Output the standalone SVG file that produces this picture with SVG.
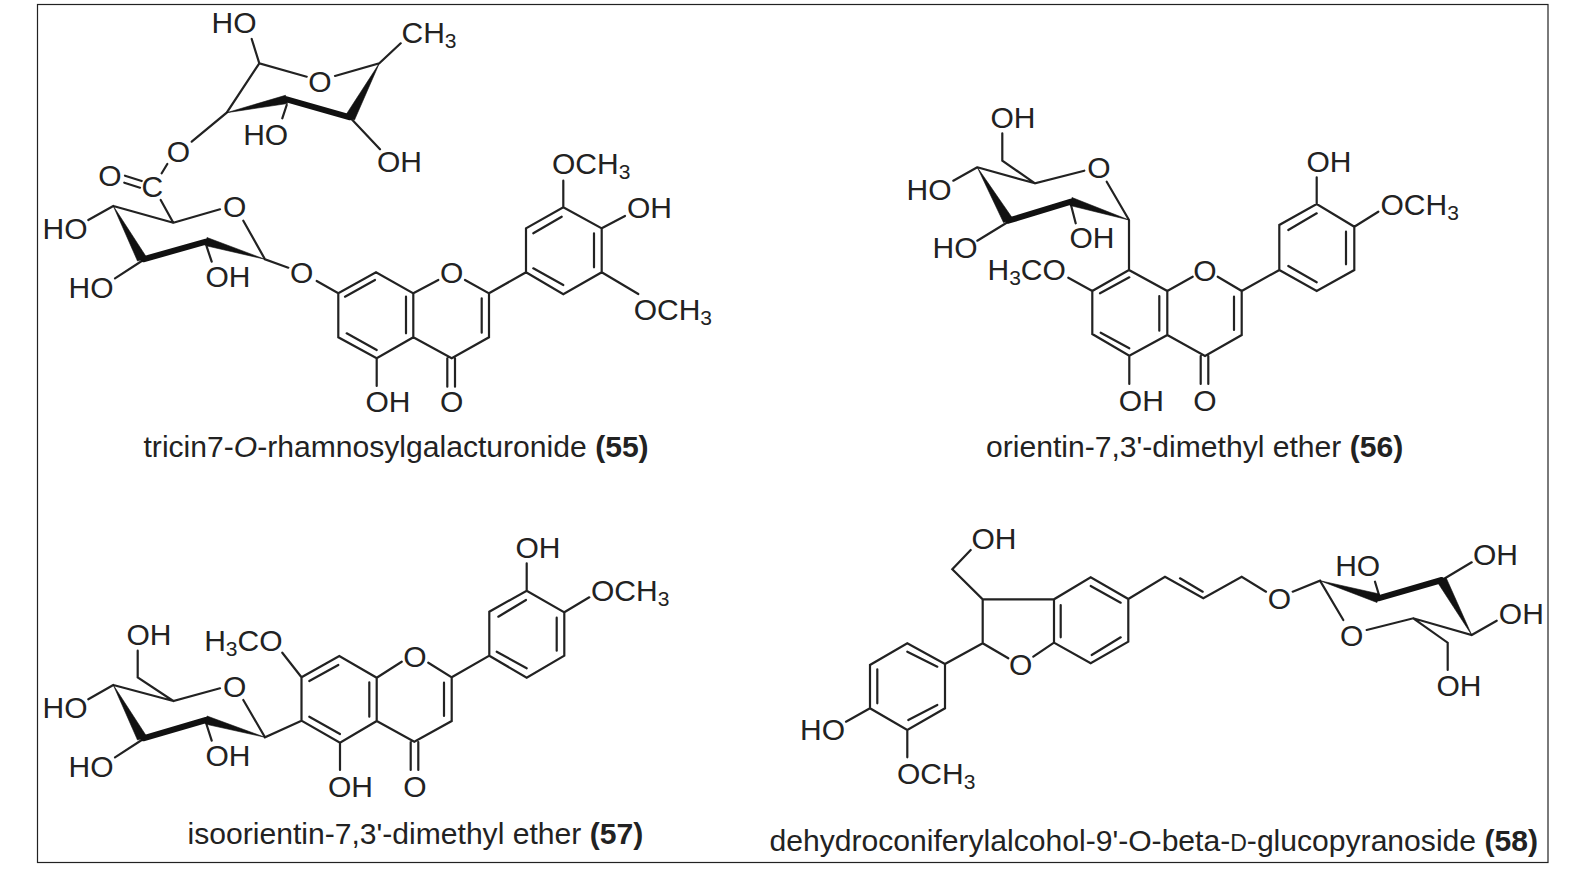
<svg xmlns="http://www.w3.org/2000/svg" width="1571" height="885" viewBox="0 0 1571 885">
<style>
.b{fill:none;stroke:#222;stroke-width:2.2;stroke-linecap:round;stroke-linejoin:miter}
.h{fill:none;stroke:#111;stroke-width:6;stroke-linecap:round}
.w{fill:#111;stroke:#111;stroke-width:.6;stroke-linejoin:round}
text{font-family:"Liberation Sans",Arial,sans-serif;fill:#222}
.a{font-size:30px}
.m{text-anchor:middle}
.c{font-size:30.1px}
.s{font-size:21px}
</style>
<rect x="37.5" y="4.5" width="1510.5" height="858" fill="#fff" stroke="#222" stroke-width="1.2"/>
<g id="connectors">
<g id="bonds-55">
<path class="b" d="M251.7 39L259.3 63.3L306.7 76.7M335 76L379.3 63.3L400.7 43.3M259.3 63.3L226.7 112.7L191.7 141.7M286.7 105L282.3 118.3M351.7 119.3L380 149.3M167.3 164L161.7 173.3M125 175.7L141.7 181M124.3 182.7L140 187.7M160.7 200L173.3 222.7L220 209.3M243.3 220.7L265 259.3L288.3 267.7M113.3 206L173.3 222.7M113.3 206L88.3 220M143.3 260L115 278.3M206.7 246.7L211.7 261.7M316.7 281L338.3 293.3L376 272.3L413.3 293.3L413.3 337.3L376.7 358.3L338.3 337.3L338.3 293.3M345 296.7L375 280M406 296.7L406 333.3M346.7 333.3L376.7 350M413.3 293.3L438.3 280M465 280L489 293.3L489 337.3L451.7 358.3L413.3 337.3M481.7 298.3L481.7 332.7M447.3 358.3L447.3 386.7M455 358.3L455 386.7M376.7 358.3L376.7 386M489 293.3L526 272.3L526 228.3L563.3 207.3L601.7 228.3L601.7 272.3L563.3 294.3L526 272.3M533.3 233.3L561.7 216.7M594 233.3L594 267.3M533.3 268.3L563.3 285M563.3 207.3L563.3 180.7M601.7 228.3L625 216M601.7 272.3L638.3 294"/>
<path class="h" d="M286.7 99.3L350 117.3M206 241.7L143.3 259.3"/>
<polygon class="w" points="226.7,112.7 285.5,95.3 287.5,103.5"/>
<polygon class="w" points="379.3,63.3 345.5,115.5 354.5,120"/>
<polygon class="w" points="265,259.3 205,245.5 207,237.5"/>
<polygon class="w" points="113.3,206 137.5,261 147,258"/>
</g>
<g id="bonds-56">
<path class="b" d="M1002.3 133.3L1002.3 160.7L1035 183.3L1084.3 170.7M1106.7 181.7L1129 220L1129 270L1167.3 291L1167.3 335L1129.3 355.7L1092.3 334L1092.3 291L1129 270M977.3 167.3L1035 183.3M977.3 167.3L953.3 180.7M1008.3 221.7L977.3 240.7M1071 205L1075.7 223.3M1068.3 277.7L1092.3 291M1100 293.3L1129.3 277.3M1159.3 296L1159.3 330.7M1100.7 332.7L1129.3 348.3M1167.3 291L1192.7 276.7M1217.7 276.7L1241.7 291L1241.7 335L1205 356L1167.3 335M1234 296.7L1234 330M1200.7 356L1200.7 384M1208.3 356L1208.3 384M1129.3 355.7L1129.3 384M1241.7 291L1279.3 270L1279.3 225L1316.7 204L1354.3 226.7L1354.3 270L1316.7 291L1279.3 270M1288.3 230L1316.7 213.3M1346 231.7L1346 264.3M1288.3 266L1316.7 282.3M1316.7 204L1316.7 177.3M1354.3 226.7L1378.3 211.7"/>
<path class="h" d="M1071 201.7L1008.3 220.7"/>
<polygon class="w" points="1129,220 1070,205.5 1072,197.5"/>
<polygon class="w" points="977.3,167.3 1003.5,222.5 1013,219"/>
</g>
<g id="bonds-57">
<path class="b" d="M137.7 650.7L137.7 677.3L173.3 701L220 688.3M243.3 700L265 737.3L301.5 720.7M113.3 685L173.3 701M113.3 685L88.3 699.3M143.3 739L115 757.3M206.7 725L211.7 740.7M282.3 652.7L301.5 677.3L339.3 656L376.7 677.7L376.7 721L340 742.7L301.5 720.7L301.5 677.3M309.3 681L338.3 665M369.3 682.3L369.3 716.7M309.3 716.7L340 734M340 742.7L340 770M376.7 677.7L401.7 661.7M428.3 662.7L451.7 677.3L451.7 721L414.3 741.7L376.7 721M444 682.7L444 716M410.7 742L410.7 770M418.3 742L418.3 770M451.7 677.3L489.3 655.7L489.3 611.7L526.7 590.7L564.3 612.3L564.3 655.7L526.7 677.7L489.3 655.7M498.3 616.7L526 600M556.7 617.7L556.7 650.7M496.7 651.7L526.7 668.3M526.7 590.7L526.7 563.3M564.3 612.3L589.3 597.3"/>
<path class="h" d="M206 720L143.3 738.3"/>
<polygon class="w" points="265,737.3 205,724 207,716"/>
<polygon class="w" points="113.3,685 137.5,740 147,737"/>
</g>
<g id="bonds-58">
<path class="b" d="M970.7 550L952.3 569.3L982.7 599.3L1054 599.3L1090.7 577.3L1128.3 599L1128.3 641.7L1090.7 663.3L1054 642.7L1054 599.3M982.7 599.3L982.7 643.3L1008.3 658.3M1033.3 656.7L1054 642.7M1060.7 605L1060.7 637.3M1090.7 586L1120.7 602.7M1091.7 655L1120.7 637.3M1128.3 599L1165 576.7L1203.3 598.3L1241.7 576.7L1266 591.7M1180 578.3L1202.7 591.7M1292.7 591.7L1320 580.7L1343.3 620M1366.7 630L1413.3 618.3L1471.7 635L1496.7 620.7M1413.3 618.3L1447.7 642.7L1447.7 670M1375 581.7L1379 595M1445 578.3L1471.7 562.3M982.7 643.3L945 664L945 708.3L907.3 730L870 708.3L870 665L907.3 643.3L945 664M877.3 669.3L877.3 703.3M907.3 651.7L937.3 666.7M908.3 720L937.3 705M870 708.3L846 721.7M907.3 730L907.3 757.3"/>
<path class="h" d="M1378.3 598.3L1441.7 580"/>
<polygon class="w" points="1320,580.7 1379.5,594 1377,602.5"/>
<polygon class="w" points="1471.7,635 1437,581.5 1446,577.5"/>
</g>
</g>
<g id="compound-55">
<text class="a" x="211.5" y="32.8">HO</text>
<text class="a" x="401.5" y="43.2">CH<tspan class="s" dy="5">3</tspan></text>
<text class="a m" x="320" y="91.5">O</text>
<text class="a" x="243.2" y="144.5">HO</text>
<text class="a" x="377" y="172">OH</text>
<text class="a m" x="178.3" y="161.5">O</text>
<text class="a m" x="152.3" y="196.5">C</text>
<text class="a m" x="110" y="185.5">O</text>
<text class="a m" x="234.7" y="216.5">O</text>
<text class="a" x="42.5" y="238.8">HO</text>
<text class="a" x="68.5" y="298">HO</text>
<text class="a" x="205.5" y="287">OH</text>
<text class="a m" x="301.7" y="283">O</text>
<text class="a m" x="451.7" y="283">O</text>
<text class="a" x="365.5" y="412">OH</text>
<text class="a m" x="451.7" y="412">O</text>
<text class="a" x="552" y="173.8">OCH<tspan class="s" dy="5">3</tspan></text>
<text class="a" x="627" y="217.8">OH</text>
<text class="a" x="633.7" y="319.8">OCH<tspan class="s" dy="5">3</tspan></text>
<text class="c" x="143.5" y="457">tricin7-<tspan font-style="italic">O</tspan>-rhamnosylgalacturonide <tspan font-weight="bold">(55)</tspan></text>
</g>
<g id="compound-56">
<text class="a" x="990.5" y="127.8">OH</text>
<text class="a m" x="1099" y="178">O</text>
<text class="a" x="906.5" y="199.8">HO</text>
<text class="a" x="932.5" y="258">HO</text>
<text class="a" x="1069.5" y="247.8">OH</text>
<text class="a" x="987.5" y="279.8">H<tspan class="s" dy="5">3</tspan><tspan dy="-5">CO</tspan></text>
<text class="a m" x="1205" y="280.5">O</text>
<text class="a" x="1118.8" y="411">OH</text>
<text class="a m" x="1205" y="410.5">O</text>
<text class="a" x="1306.5" y="172">OH</text>
<text class="a" x="1380.5" y="214.5">OCH<tspan class="s" dy="5">3</tspan></text>
<text class="c" x="986" y="456.5">orientin-7,3'-dimethyl ether <tspan font-weight="bold">(56)</tspan></text>
</g>
<g id="compound-57">
<text class="a" x="126.5" y="644.8">OH</text>
<text class="a" x="204.2" y="650.5">H<tspan class="s" dy="5">3</tspan><tspan dy="-5">CO</tspan></text>
<text class="a m" x="234.7" y="696.5">O</text>
<text class="a" x="42.5" y="717.8">HO</text>
<text class="a" x="68.5" y="777">HO</text>
<text class="a" x="205.5" y="766">OH</text>
<text class="a" x="328" y="797">OH</text>
<text class="a m" x="415" y="666.5">O</text>
<text class="a m" x="415" y="797">O</text>
<text class="a" x="515.5" y="557.8">OH</text>
<text class="a" x="591" y="600.5">OCH<tspan class="s" dy="5">3</tspan></text>
<text class="c" x="187.5" y="844">isoorientin-7,3'-dimethyl ether <tspan font-weight="bold">(57)</tspan></text>
</g>
<g id="compound-58">
<text class="a" x="971.5" y="548.8">OH</text>
<text class="a m" x="1020.7" y="674.5">O</text>
<text class="a" x="800" y="739.8">HO</text>
<text class="a" x="897" y="783.8">OCH<tspan class="s" dy="5">3</tspan></text>
<text class="a m" x="1279.3" y="608.5">O</text>
<text class="a m" x="1351.7" y="645.5">O</text>
<text class="a" x="1335.2" y="575.5">HO</text>
<text class="a" x="1473" y="564.8">OH</text>
<text class="a" x="1498.8" y="623.8">OH</text>
<text class="a" x="1436.5" y="695.5">OH</text>
<text class="c" x="769.5" y="851">dehydroconiferylalcohol-9'-O-beta-<tspan font-size="23">D</tspan>-glucopyranoside <tspan font-weight="bold">(58)</tspan></text>
</g>
</svg>
